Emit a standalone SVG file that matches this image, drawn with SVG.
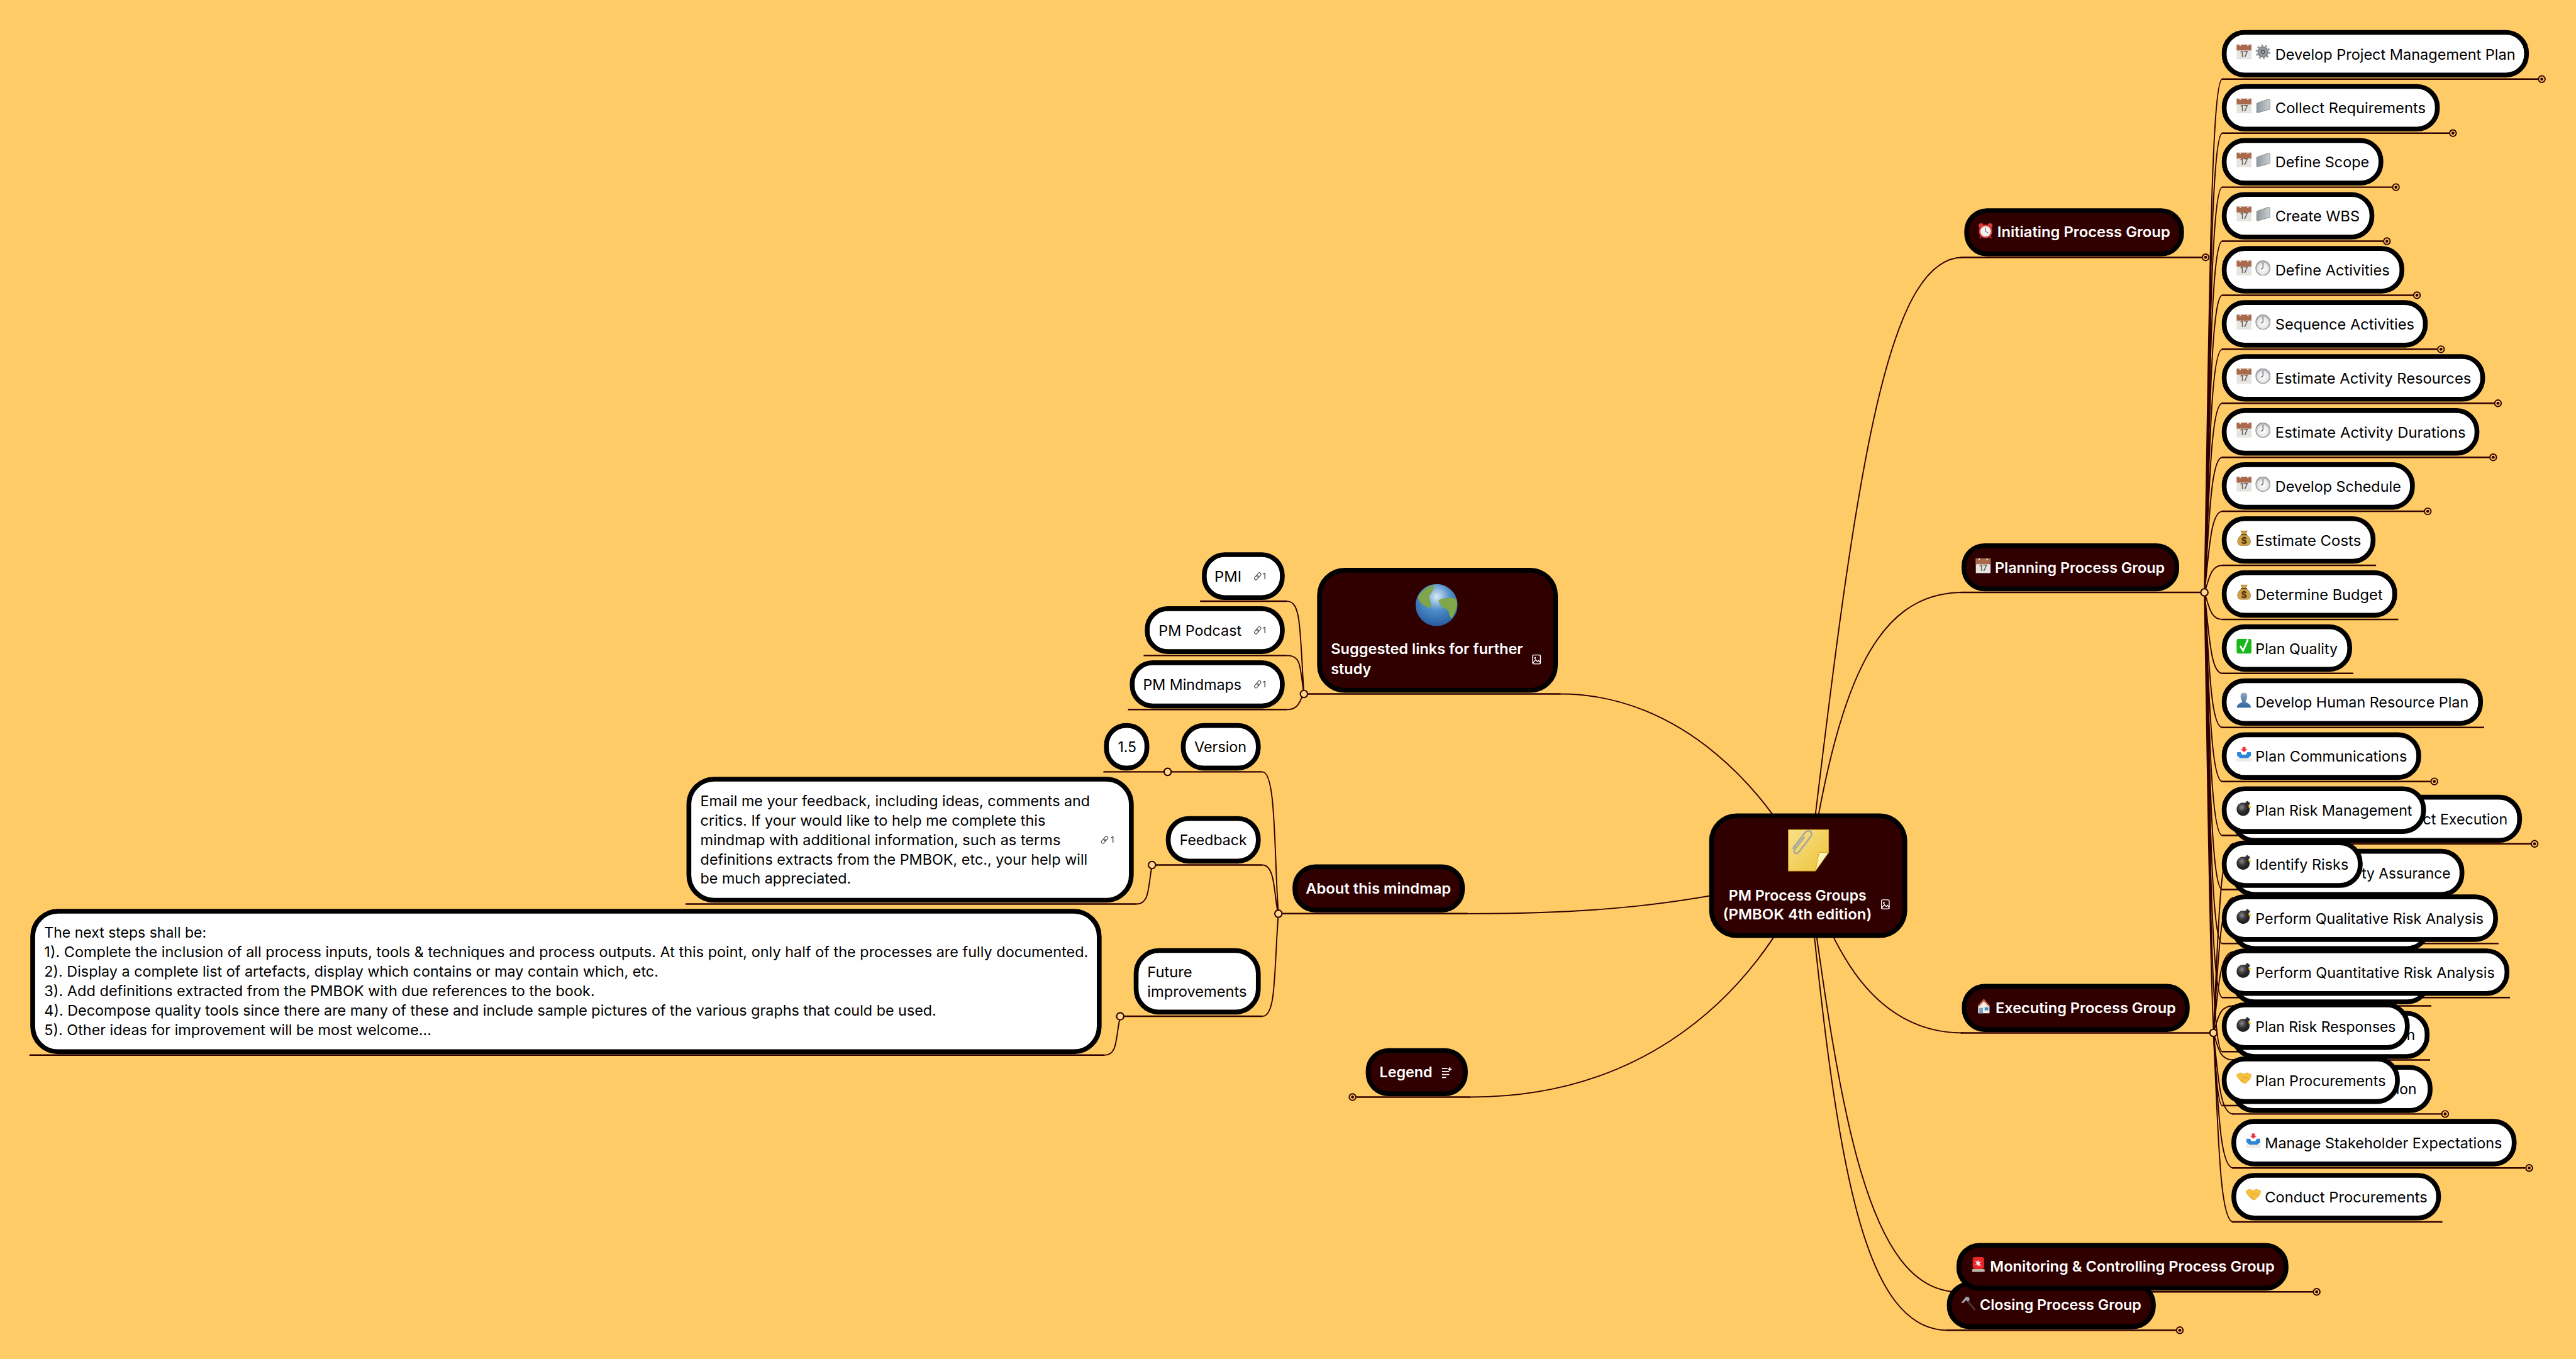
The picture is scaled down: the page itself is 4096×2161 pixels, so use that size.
<svg xmlns="http://www.w3.org/2000/svg" width="4096" height="2161" viewBox="0 0 4096 2161">
<style>
text{font-family:Inter,"Liberation Sans",sans-serif;font-size:24px}
.t{fill:#000;font-weight:400}
.b{fill:#fff;font-weight:600}
.w{fill:#fff;stroke:#000;stroke-width:8}
.k{fill:#300000;stroke:#000;stroke-width:8}
.c{fill:none;stroke:#300000;stroke-width:2}
.u{fill:none;stroke:#300000;stroke-width:2.6}
.o{fill:#ffd98c;stroke:#300000;stroke-width:2.2}
.x{fill:#ffcb66;stroke:#300000;stroke-width:2}
.s{font-size:14px;fill:#333}
.a{font-size:13px;fill:#555;font-weight:500}
</style>
<defs>
<symbol id="cal" width="25" height="25" viewBox="0 0 25 25"><rect width="25" height="25" fill="#e6e4df"/><rect width="25" height="10" fill="#a9694b"/><circle cx="6" cy="1.5" r="1.2" fill="#fff"/><circle cx="19" cy="1.5" r="1.2" fill="#fff"/><text x="12.5" y="21" text-anchor="middle" class="a" style="font-size:13px">17</text></symbol>
<radialGradient id="gg"><stop offset="0" stop-color="#e2e5e9"/><stop offset="1" stop-color="#6f747a"/></radialGradient>
<symbol id="gear" width="25" height="25" viewBox="0 0 25 25"><circle cx="12.5" cy="12.5" r="10.5" fill="none" stroke="#9aa0a8" stroke-width="3.5" stroke-dasharray="3.4 3.2"/><circle cx="12.5" cy="12.5" r="9" fill="url(#gg)"/><circle cx="12.5" cy="12.5" r="4" fill="#55585c"/><circle cx="12.5" cy="12.5" r="1.6" fill="#ccc"/></symbol>
<linearGradient id="fg" x1="0" x2="1"><stop offset="0" stop-color="#8e979f"/><stop offset="1" stop-color="#c9ced2"/></linearGradient>
<symbol id="fold" width="25" height="25" viewBox="0 0 25 25"><path d="M1 8 L21 1 L23 2 V18 L2 24 L1 23Z" fill="url(#fg)" stroke="#8a8a80" stroke-width="1"/></symbol>
<radialGradient id="cg" cx=".5" cy=".55" r=".55"><stop offset="0" stop-color="#fff"/><stop offset=".65" stop-color="#e8e8e8"/><stop offset="1" stop-color="#8f959b"/></radialGradient>
<symbol id="clock" width="25" height="25" viewBox="0 0 25 25"><ellipse cx="12.5" cy="12.5" rx="12" ry="12.300" fill="url(#cg)" stroke="#8f949a" stroke-width="1.2"/><path d="M12.500 12.500V3.500M12.500 12.500L9 14.500" stroke="#555" stroke-width="1.300" fill="none"/></symbol>
<symbol id="bag" width="25" height="25" viewBox="0 0 25 25"><path d="M7 0h11l-3 6c7 4 9 10 8 14-1 5-5 5-10.500 5s-9.500 0-10.500-5c-1-4 1-10 8-14z" fill="#cfa144" stroke="#8a6a2a" stroke-width=".8"/><rect x="7.500" y="5.500" width="10" height="2.200" fill="#6b4a1c"/><text x="12.5" y="22" text-anchor="middle" style="font-size:15px;font-weight:700;fill:#4a3210">$</text></symbol>
<symbol id="chk" width="25" height="25" viewBox="0 0 25 25"><rect width="25" height="25" rx="4" fill="#18b818"/><path d="M6 12l5 8 8-19" fill="none" stroke="#fff" stroke-width="3"/></symbol>
<linearGradient id="pg" x1="0" x2="0" y1="0" y2="1"><stop offset="0" stop-color="#8fa9bf"/><stop offset="1" stop-color="#2f64a0"/></linearGradient>
<symbol id="man" width="25" height="25" viewBox="0 0 25 25"><path d="M12.500 0c4 0 6 3 5 8-.5 3-2 5-2.500 7 2 2 9 3 9 10H.5c0-7 7-8 9-10-.5-2-2-4-2.500-7-1-5 1-8 5.500-8z" fill="url(#pg)"/></symbol>
<symbol id="inb" width="25" height="25" viewBox="0 0 25 25"><path d="M10 0h5v4h3l-5.500 5L7 4h3z" fill="#f0303a"/><rect x="0" y="18" width="25" height="7" fill="#ecebe8"/><path d="M1 9h6l2 4h7l2-4h6v6l-5 4H6l-5-4z" fill="#2f86d8"/></symbol>
<radialGradient id="bg" cx=".4" cy=".35"><stop offset="0" stop-color="#8a8a8a"/><stop offset=".6" stop-color="#3a3a3a"/><stop offset="1" stop-color="#222"/></radialGradient>
<symbol id="bomb" width="25" height="25" viewBox="0 0 25 25"><rect x="15" y="1" width="7" height="7" rx="1" transform="rotate(40 18 4)" fill="#333"/><circle cx="11" cy="14" r="11" fill="url(#bg)"/><circle cx="22" cy="10" r="2" fill="#f5d21f"/></symbol>
<symbol id="hand" width="25" height="25" viewBox="0 0 25 25"><path d="M0 6l6-3 6 2 6-2 7 3v2l-3 6-7 7-4-1-4-3-5-6-2-3z" fill="#f6c23d" stroke="#d9a024" stroke-width=".6"/><path d="M8 8l4 4 4-2 5 5M7 13l5 6" fill="none" stroke="#d99c22" stroke-width="1"/></symbol>
<symbol id="house" width="25" height="25" viewBox="0 0 25 25"><path d="M12.500 0L22 11v13H3V11z" fill="#f2efe6"/><path d="M12.500 0L23 12l-2 1L12.500 4 4 13l-2-1z" fill="#c4533b"/><rect x="5" y="15" width="6" height="9" fill="#7b9fc4"/><rect x="14" y="14" width="6" height="5" fill="#3f88c8"/></symbol>
<symbol id="alarm" width="25" height="25" viewBox="0 0 25 25"><circle cx="5" cy="4" r="4" fill="#d63d3d"/><circle cx="20" cy="4" r="4" fill="#d63d3d"/><circle cx="12.500" cy="13.500" r="10" fill="#f2f2f2" stroke="#d63d3d" stroke-width="2.500"/><path d="M12.500 13.500V7M12.500 13.500l5 3" stroke="#444" stroke-width="1" fill="none"/><path d="M5 22l-2 3M20 22l2 3" stroke="#d63d3d" stroke-width="2"/></symbol>
<symbol id="siren" width="25" height="25" viewBox="0 0 25 25"><rect x="3" y="0" width="19" height="20" rx="4" fill="#e8262a"/><path d="M12 4l1 5 5-2-4 4 4 4-5-2-1 4-1-5-4 1 3-3-3-4 4 2z" fill="#fff"/><rect x="2" y="20" width="21" height="5" rx="1.500" fill="#b9b2a8"/></symbol>
<symbol id="ham" width="25" height="25" viewBox="0 0 25 25"><path d="M11 8L24 23" stroke="#4a3a30" stroke-width="3"/><path d="M1 11L9 1l5 1 1 5-3 2-3-2-5 5z" fill="#9aa0a6"/></symbol>
<symbol id="lnk" width="14" height="14" viewBox="0 0 14 14"><g fill="none" stroke="#444" stroke-width="1.100" transform="rotate(-50 7 7)"><rect x="0" y="4.500" width="8" height="5" rx="2.500"/><rect x="6" y="4.500" width="8" height="5" rx="2.500"/></g></symbol>
<symbol id="pic" width="15" height="17" viewBox="0 0 15 17"><rect x="1" y="1" width="13" height="15" rx="2" fill="none" stroke="#fff" stroke-width="1.500"/><circle cx="5" cy="6" r="1.500" fill="#fff"/><path d="M2 14l4-5 3 3 2-2 3 4" fill="none" stroke="#fff" stroke-width="1.500"/></symbol>
<radialGradient id="globe" cx=".5" cy=".3" r=".8"><stop offset="0" stop-color="#d8eaf5"/><stop offset=".4" stop-color="#4f8fc8"/><stop offset="1" stop-color="#1d4f96"/></radialGradient>
<linearGradient id="note" x1="0" y1="0" x2="1" y2="1"><stop offset="0" stop-color="#f8e18a"/><stop offset="1" stop-color="#edc338"/></linearGradient>
</defs>
<rect width="4096" height="2161" fill="#ffcb66"/>
<g transform="scale(0.95456)">
<g id="connectors">
<path class="c" d="M3012 1458C3090 800 3140 428.700 3270 428.700"/>
<path class="c" d="M3012 1458C3060 1150 3120 986.800 3270 986.800"/>
<path class="c" d="M3012 1458C3060 1600 3130 1720.600 3270 1720.600"/>
<path class="c" d="M3012 1458C3065 1850 3110 2152 3262 2152"/>
<path class="c" d="M3012 1458C3060 1950 3105 2216 3245 2216"/>
<path class="c" d="M3012 1458C2900 1700 2700 1827.500 2450 1827.500"/>
<path class="c" d="M3012 1458C2800 1510 2650 1522 2445 1522"/>
<path class="c" d="M3012 1458C2950 1320 2800 1156 2600 1156"/>
<path class="u" d="M3266 428.700H3668M3266 986.800H3666M3266 1720.600H3681M3259 2152H3853M3243 2216H3625M2450 1827.500H2259M2445 1522H2135M2600 1156H2178"/>
<path class="c" d="M3672 987C3680 560 3682 131.800 3702 131.800M3672 987C3680 605 3682 221.800 3702 221.800M3672 987C3680 650 3682 311.800 3702 311.800M3672 987C3680 695 3682 401.800 3702 401.800M3672 987C3680 740 3682 491.800 3702 491.800M3672 987C3680 785 3682 581.800 3702 581.800M3672 987C3680 830 3682 671.800 3702 671.800M3672 987C3680 875 3682 761.800 3702 761.800M3672 987C3680 920 3682 851.800 3702 851.800M3672 987C3680 965 3682 941.800 3702 941.800M3672 987C3680 1010 3682 1031.800 3702 1031.800M3672 987C3680 1055 3682 1121.800 3702 1121.800M3672 987C3680 1100 3682 1211.800 3702 1211.800M3672 987C3680 1145 3682 1301.800 3702 1301.800M3672 987C3680 1190 3682 1391.800 3702 1391.800M3672 987C3680 1235 3682 1481.800 3702 1481.800M3672 987C3680 1280 3682 1571.800 3702 1571.800M3672 987C3680 1325 3682 1661.800 3702 1661.800M3672 987C3680 1370 3682 1751.800 3702 1751.800M3672 987C3680 1415 3682 1841.800 3702 1841.800"/>
<path class="u" d="M3701 131.800H4228M3701 221.800H4080M3701 311.800H3985M3701 401.800H3970M3701 491.800H4020M3701 581.800H4060M3701 671.800H4155M3701 761.800H4147M3701 851.800H4038M3701 941.800H3958M3701 1031.800H3995M3701 1121.800H3920M3701 1211.800H4138M3701 1301.800H4049M3701 1391.800H4043M3701 1481.800H3937M3701 1571.800H4162M3701 1661.800H4181M3701 1751.800H4016M3701 1841.800H3999"/>
<path class="c" d="M3687 1720.600C3695 1560 3697 1405.700 3720 1405.700M3687 1720.600C3695 1610 3697 1495.700 3720 1495.700M3687 1720.600C3695 1650 3697 1585.700 3720 1585.700M3687 1720.600C3695 1695 3697 1675.700 3720 1675.700M3687 1720.600C3695 1745 3697 1765.700 3720 1765.700M3687 1720.600C3695 1790 3697 1855.700 3720 1855.700M3687 1720.600C3695 1835 3697 1945.700 3720 1945.700M3687 1720.600C3695 1880 3697 2035.600 3720 2035.600"/>
<path class="u" d="M3718 1405.700H4216M3718 1495.700H4100M3718 1585.700H4030M3718 1675.700H4050M3718 1765.700H4048M3718 1855.700H4067M3718 1945.700H4207M3718 2035.600H4068.500"/>
<path class="c" d="M2172 1156C2165 1050 2168 1001.600 2144 1001.600M2172 1156C2165 1110 2168 1092 2144 1092M2172 1156C2165 1165 2165 1182 2144 1182"/>
<path class="u" d="M2144 1001.600H1999M2144 1092H1905M2144 1182H1879"/>
<path class="c" d="M2129.500 1522C2122 1420 2126 1285.800 2103 1285.800M2129.500 1522C2122 1500 2126 1441 2103 1441M2129.500 1522C2122 1620 2126 1693 2103 1693"/>
<path class="u" d="M2103 1285.800H1838M2103 1441H1925M2103 1693H1872"/>
<path class="c" d="M1919 1441C1912 1480 1915 1506 1893 1506M1866 1693C1858 1730 1862 1757.700 1840 1757.700"/>
<path class="u" d="M1893 1506H1142M1840 1757.700H49"/>
<g id="toggles">
<circle class="x" cx="4234" cy="131.800" r="5.500"/><circle cx="4234" cy="131.800" r="2.500" fill="#300000"/>
<circle class="x" cx="4086" cy="221.800" r="5.500"/><circle cx="4086" cy="221.800" r="2.500" fill="#300000"/>
<circle class="x" cx="3991" cy="311.800" r="5.500"/><circle cx="3991" cy="311.800" r="2.500" fill="#300000"/>
<circle class="x" cx="3976" cy="401.800" r="5.500"/><circle cx="3976" cy="401.800" r="2.500" fill="#300000"/>
<circle class="x" cx="4026" cy="491.800" r="5.500"/><circle cx="4026" cy="491.800" r="2.500" fill="#300000"/>
<circle class="x" cx="4066" cy="581.800" r="5.500"/><circle cx="4066" cy="581.800" r="2.500" fill="#300000"/>
<circle class="x" cx="4161" cy="671.800" r="5.500"/><circle cx="4161" cy="671.800" r="2.500" fill="#300000"/>
<circle class="x" cx="4153" cy="761.800" r="5.500"/><circle cx="4153" cy="761.800" r="2.500" fill="#300000"/>
<circle class="x" cx="4044" cy="851.800" r="5.500"/><circle cx="4044" cy="851.800" r="2.500" fill="#300000"/>
<circle class="x" cx="4055" cy="1301.800" r="5.500"/><circle cx="4055" cy="1301.800" r="2.500" fill="#300000"/>
<circle class="x" cx="4222" cy="1405.700" r="5.500"/><circle cx="4222" cy="1405.700" r="2.500" fill="#300000"/>
<circle class="x" cx="4073" cy="1855.700" r="5.500"/><circle cx="4073" cy="1855.700" r="2.500" fill="#300000"/>
<circle class="x" cx="4213" cy="1945.700" r="5.500"/><circle cx="4213" cy="1945.700" r="2.500" fill="#300000"/>
<circle class="x" cx="3674" cy="428.700" r="5.500"/><circle cx="3674" cy="428.700" r="2.500" fill="#300000"/>
<circle class="x" cx="3859" cy="2152" r="5.500"/><circle cx="3859" cy="2152" r="2.500" fill="#300000"/>
<circle class="x" cx="3631" cy="2216" r="5.500"/><circle cx="3631" cy="2216" r="2.500" fill="#300000"/>
<circle class="x" cx="2253" cy="1827.500" r="5.500"/><circle cx="2253" cy="1827.500" r="2.500" fill="#300000"/>
<circle class="o" cx="3672" cy="986.800" r="6"/>
<circle class="o" cx="3687" cy="1720.600" r="6"/>
<circle class="o" cx="2172" cy="1156" r="6"/>
<circle class="o" cx="2129.500" cy="1522" r="6"/>
<circle class="o" cx="1945" cy="1285.800" r="6"/>
<circle class="o" cx="1919" cy="1441" r="6"/>
<circle class="o" cx="1866" cy="1693" r="6"/>
</g>
</g>

<g id="executing-children">
<g id="n-conduct"><rect class="w" x="3721" y="1958" width="341" height="71" rx="34"/><use href="#hand" x="3741" y="1978"/><text class="t" x="3772.700" y="2003" textLength="270.700" lengthAdjust="spacingAndGlyphs">Conduct Procurements</text></g>
<g id="n-stakeholder"><rect class="w" x="3721" y="1868" width="467" height="71" rx="34"/><use href="#inb" x="3741" y="1888"/><text class="t" x="3772.700" y="1913" textLength="395" lengthAdjust="spacingAndGlyphs">Manage Stakeholder Expectations</text></g>
<g id="n-information"><rect class="w" x="3721" y="1778" width="327" height="72" rx="34"/><text class="t" x="3991" y="1823">ion</text></g>
<g id="n-team"><rect class="w" x="3721" y="1688" width="322" height="72" rx="34"/><text class="t" x="4009" y="1733">n</text></g>
<g id="n-hidden-b"><rect class="w" x="3721" y="1598" width="323" height="71" rx="34"/></g>
<g id="n-hidden-a"><rect class="w" x="3721" y="1508" width="323" height="72" rx="34"/></g>
<g id="n-assurance"><rect class="w" x="3721" y="1418" width="380" height="72" rx="34"/><text class="t" x="3934" y="1463" textLength="148" lengthAdjust="spacingAndGlyphs">ty Assurance</text></g>
<g id="n-execution"><rect class="w" x="3721" y="1328" width="476" height="72" rx="34"/><text class="t" x="4036" y="1373" textLength="141" lengthAdjust="spacingAndGlyphs">ct Execution</text></g>
</g>

<g id="planning-children">
<g id="n-dpmp"><rect class="w" x="3705" y="54" width="503.500" height="71" rx="34"/><use href="#cal" x="3725.500" y="74"/><use href="#gear" x="3757" y="74"/><text class="t" x="3790" y="99" textLength="400" lengthAdjust="spacingAndGlyphs">Develop Project Management Plan</text></g>
<g id="n-collect"><rect class="w" x="3705" y="144" width="355" height="71" rx="34"/><use href="#cal" x="3725.500" y="164"/><use href="#fold" x="3758" y="164"/><text class="t" x="3790" y="189" textLength="250.600" lengthAdjust="spacingAndGlyphs">Collect Requirements</text></g>
<g id="n-scope"><rect class="w" x="3705" y="234" width="261" height="71" rx="34"/><use href="#cal" x="3725.500" y="254"/><use href="#fold" x="3758" y="254"/><text class="t" x="3790" y="279" textLength="156.600" lengthAdjust="spacingAndGlyphs">Define Scope</text></g>
<g id="n-wbs"><rect class="w" x="3705" y="324" width="246" height="71" rx="34"/><use href="#cal" x="3725.500" y="344"/><use href="#fold" x="3758" y="344"/><text class="t" x="3790" y="369" textLength="140.600" lengthAdjust="spacingAndGlyphs">Create WBS</text></g>
<g id="n-activities"><rect class="w" x="3705" y="414" width="296" height="71" rx="34"/><use href="#cal" x="3725.500" y="434"/><use href="#clock" x="3757" y="434"/><text class="t" x="3790" y="459" textLength="190.700" lengthAdjust="spacingAndGlyphs">Define Activities</text></g>
<g id="n-sequence"><rect class="w" x="3705" y="504" width="335" height="71" rx="34"/><use href="#cal" x="3725.500" y="524"/><use href="#clock" x="3757" y="524"/><text class="t" x="3790" y="549" textLength="231.700" lengthAdjust="spacingAndGlyphs">Sequence Activities</text></g>
<g id="n-resources"><rect class="w" x="3705" y="594" width="430.500" height="71" rx="34"/><use href="#cal" x="3725.500" y="614"/><use href="#clock" x="3757" y="614"/><text class="t" x="3790" y="639" textLength="326.400" lengthAdjust="spacingAndGlyphs">Estimate Activity Resources</text></g>
<g id="n-durations"><rect class="w" x="3705" y="684" width="421" height="71" rx="34"/><use href="#cal" x="3725.500" y="704"/><use href="#clock" x="3757" y="704"/><text class="t" x="3790" y="729" textLength="317.300" lengthAdjust="spacingAndGlyphs">Estimate Activity Durations</text></g>
<g id="n-schedule"><rect class="w" x="3705" y="774" width="313.500" height="71" rx="34"/><use href="#cal" x="3725.500" y="794"/><use href="#clock" x="3757" y="794"/><text class="t" x="3790" y="819" textLength="209.500" lengthAdjust="spacingAndGlyphs">Develop Schedule</text></g>
<g id="n-costs"><rect class="w" x="3705" y="864" width="248" height="71" rx="34"/><use href="#bag" x="3725.500" y="884"/><text class="t" x="3757" y="909" textLength="176" lengthAdjust="spacingAndGlyphs">Estimate Costs</text></g>
<g id="n-budget"><rect class="w" x="3705" y="954" width="284" height="71" rx="34"/><use href="#bag" x="3725.500" y="974"/><text class="t" x="3757" y="999" textLength="212" lengthAdjust="spacingAndGlyphs">Determine Budget</text></g>
<g id="n-quality"><rect class="w" x="3705" y="1044" width="209" height="71" rx="34"/><use href="#chk" x="3725.500" y="1064"/><text class="t" x="3757" y="1089" textLength="137" lengthAdjust="spacingAndGlyphs">Plan Quality</text></g>
<g id="n-hr"><rect class="w" x="3705" y="1134" width="427" height="71" rx="34"/><use href="#man" x="3725.500" y="1154"/><text class="t" x="3757" y="1179" textLength="355" lengthAdjust="spacingAndGlyphs">Develop Human Resource Plan</text></g>
<g id="n-comm"><rect class="w" x="3705" y="1224" width="324" height="71" rx="34"/><use href="#inb" x="3725.500" y="1244"/><text class="t" x="3757" y="1269" textLength="252.600" lengthAdjust="spacingAndGlyphs">Plan Communications</text></g>
<g id="n-prm"><rect class="w" x="3705" y="1314" width="332" height="71" rx="34"/><use href="#bomb" x="3725.500" y="1334"/><text class="t" x="3757" y="1359" textLength="261" lengthAdjust="spacingAndGlyphs">Plan Risk Management</text></g>
<g id="n-identify"><rect class="w" x="3705" y="1404" width="226.600" height="71" rx="34"/><use href="#bomb" x="3725.500" y="1424"/><text class="t" x="3757" y="1449" textLength="155" lengthAdjust="spacingAndGlyphs">Identify Risks</text></g>
<g id="n-qual"><rect class="w" x="3705" y="1494" width="452" height="71" rx="34"/><use href="#bomb" x="3725.500" y="1514"/><text class="t" x="3757" y="1539" textLength="380" lengthAdjust="spacingAndGlyphs">Perform Qualitative Risk Analysis</text></g>
<g id="n-quant"><rect class="w" x="3705" y="1584" width="471" height="71" rx="34"/><use href="#bomb" x="3725.500" y="1604"/><text class="t" x="3757" y="1629" textLength="398.700" lengthAdjust="spacingAndGlyphs">Perform Quantitative Risk Analysis</text></g>
<g id="n-responses"><rect class="w" x="3705" y="1674" width="305" height="71" rx="34"/><use href="#bomb" x="3725.500" y="1694"/><text class="t" x="3757" y="1719" textLength="233.800" lengthAdjust="spacingAndGlyphs">Plan Risk Responses</text></g>
<g id="n-procure"><rect class="w" x="3705" y="1764" width="288.500" height="71" rx="34"/><use href="#hand" x="3725.500" y="1784"/><text class="t" x="3757" y="1809" textLength="217" lengthAdjust="spacingAndGlyphs">Plan Procurements</text></g>
</g>

<g id="n-initiating"><rect class="k" x="3276" y="351" width="358" height="72" rx="34"/><use href="#alarm" x="3295" y="372"/><text class="b" x="3327" y="395" textLength="288" lengthAdjust="spacingAndGlyphs">Initiating Process Group</text></g>
<g id="n-planning"><rect class="k" x="3271.500" y="909" width="354.500" height="72" rx="34"/><use href="#cal" x="3291" y="930"/><text class="b" x="3323" y="954" textLength="283" lengthAdjust="spacingAndGlyphs">Planning Process Group</text></g>
<g id="n-executing"><rect class="k" x="3272" y="1643" width="371.500" height="72" rx="34"/><use href="#house" x="3292" y="1664"/><text class="b" x="3324" y="1688" textLength="300.500" lengthAdjust="spacingAndGlyphs">Executing Process Group</text></g>
<g id="n-closing"><rect class="k" x="3247" y="2139" width="340" height="71" rx="34"/><use href="#ham" x="3266" y="2159"/><text class="b" x="3298" y="2182" textLength="269" lengthAdjust="spacingAndGlyphs">Closing Process Group</text></g>
<g id="n-monitoring"><rect class="k" x="3263" y="2074.500" width="545" height="71.500" rx="34"/><use href="#siren" x="3283" y="2094"/><text class="b" x="3315" y="2118" textLength="474" lengthAdjust="spacingAndGlyphs">Monitoring &amp; Controlling Process Group</text></g>

<g id="n-central"><rect class="k" x="2851" y="1359" width="322" height="199.500" rx="42"/>
<path d="M2979 1382H3046V1420L3024 1451H2979Z" fill="url(#note)" stroke="#d8a020"/><path d="M3046 1420H3030L3024 1451Z" fill="#fff3b5" stroke="#d8a020"/>
<path d="M2986 1414L3006 1388C3012 1380 3022 1386 3016 1394L2996 1420C2992 1424 2986 1420 2990 1414L3006 1394" fill="none" stroke="#9ea3a8" stroke-width="2.500"/>
<text class="b" x="2879.600" y="1500" textLength="229.400" lengthAdjust="spacingAndGlyphs">PM Process Groups</text><text class="b" x="2870" y="1532" textLength="248" lengthAdjust="spacingAndGlyphs">(PMBOK 4th edition)</text><use href="#pic" x="3133" y="1498"/></g>

<g id="n-suggested"><rect class="k" x="2198" y="950" width="393" height="200" rx="42"/>
<circle cx="2393" cy="1008" r="35" fill="url(#globe)"/><path d="M2362 995c8-14 18-18 26-20 2 6-4 14-8 18 2 8 6 12 2 20-8-2-18-8-20-18zM2396 1000c8-4 22-6 30-2 3 12-2 24-8 32-4-2-4-10-6-14-8-2-14-8-16-16z" fill="#7fa64a"/>
<text class="b" x="2217" y="1090" textLength="320" lengthAdjust="spacingAndGlyphs">Suggested links for further</text><text class="b" x="2217" y="1123" textLength="67" lengthAdjust="spacingAndGlyphs">study</text><use href="#pic" x="2552" y="1090"/></g>
<g id="n-about"><rect class="k" x="2157" y="1444" width="279" height="72" rx="34"/><text class="b" x="2175" y="1489" textLength="242" lengthAdjust="spacingAndGlyphs">About this mindmap</text></g>
<g id="n-legend"><rect class="k" x="2279" y="1750" width="162" height="72" rx="34"/><text class="b" x="2298" y="1795" textLength="88" lengthAdjust="spacingAndGlyphs">Legend</text><path d="M2402 1780h9M2402 1785h12M2402 1790h12M2402 1795h7M2415 1778v6M2412 1781h6" stroke="#fff" stroke-width="1.800"/></g>

<g id="n-pmi"><rect class="w" x="2006" y="924" width="130" height="71.500" rx="34"/><text class="t" x="2023" y="969" textLength="45" lengthAdjust="spacingAndGlyphs">PMI</text><use href="#lnk" x="2088" y="953"/><text class="s" x="2103" y="965">1</text></g>
<g id="n-podcast"><rect class="w" x="1911" y="1014" width="225" height="71.500" rx="34"/><text class="t" x="1930" y="1059" textLength="138" lengthAdjust="spacingAndGlyphs">PM Podcast</text><use href="#lnk" x="2088" y="1043"/><text class="s" x="2103" y="1055">1</text></g>
<g id="n-mindmaps"><rect class="w" x="1886" y="1104" width="250" height="72" rx="34"/><text class="t" x="1904" y="1149" textLength="164" lengthAdjust="spacingAndGlyphs">PM Mindmaps</text><use href="#lnk" x="2088" y="1133"/><text class="s" x="2103" y="1145">1</text></g>
<g id="n-version"><rect class="w" x="1971" y="1208.500" width="125" height="71" rx="34"/><text class="t" x="1989.500" y="1253" textLength="87" lengthAdjust="spacingAndGlyphs">Version</text></g>
<g id="n-v15"><rect class="w" x="1843" y="1208.500" width="67.400" height="71" rx="33"/><text class="t" x="1862" y="1253" textLength="31" lengthAdjust="spacingAndGlyphs">1.5</text></g>
<g id="n-feedback"><rect class="w" x="1946" y="1363.500" width="150" height="71" rx="34"/><text class="t" x="1965" y="1408" textLength="112" lengthAdjust="spacingAndGlyphs">Feedback</text></g>
<g id="n-future"><rect class="w" x="1892.500" y="1583.500" width="203.500" height="102.500" rx="38"/><text class="t" x="1911" y="1628" textLength="75" lengthAdjust="spacingAndGlyphs">Future</text><text class="t" x="1911" y="1660" textLength="166" lengthAdjust="spacingAndGlyphs">improvements</text></g>
<g id="n-email"><rect class="w" x="1147.500" y="1298" width="737" height="201.700" rx="42"/>
<text class="t" x="1166.600" y="1343" textLength="649" lengthAdjust="spacingAndGlyphs">Email me your feedback, including ideas, comments and</text>
<text class="t" x="1166.600" y="1375" textLength="575" lengthAdjust="spacingAndGlyphs">critics. If your would like to help me complete this</text>
<text class="t" x="1166.600" y="1408" textLength="600" lengthAdjust="spacingAndGlyphs">mindmap with additional information, such as terms</text>
<text class="t" x="1166.600" y="1440" textLength="645" lengthAdjust="spacingAndGlyphs">definitions extracts from the PMBOK, etc., your help will</text>
<text class="t" x="1166.600" y="1472" textLength="251" lengthAdjust="spacingAndGlyphs">be much appreciated.</text>
<use href="#lnk" x="1833" y="1392"/><text class="s" x="1850" y="1404">1</text></g>
<g id="n-next"><rect class="w" x="54.500" y="1518" width="1776.500" height="234" rx="42"/>
<text class="t" x="73.700" y="1562" textLength="270" lengthAdjust="spacingAndGlyphs">The next steps shall be:</text>
<text class="t" x="73.700" y="1594" textLength="1739" lengthAdjust="spacingAndGlyphs">1). Complete the inclusion of all process inputs, tools &amp; techniques and process outputs. At this point, only half of the processes are fully documented.</text>
<text class="t" x="73.700" y="1627" textLength="1023" lengthAdjust="spacingAndGlyphs">2). Display a complete list of artefacts, display which contains or may contain which, etc.</text>
<text class="t" x="73.700" y="1659" textLength="917" lengthAdjust="spacingAndGlyphs">3). Add definitions extracted from the PMBOK with due references to the book.</text>
<text class="t" x="73.700" y="1692" textLength="1486" lengthAdjust="spacingAndGlyphs">4). Decompose quality tools since there are many of these and include sample pictures of the various graphs that could be used.</text>
<text class="t" x="73.700" y="1724" textLength="645" lengthAdjust="spacingAndGlyphs">5). Other ideas for improvement will be most welcome...</text></g>
</g>
</svg>
